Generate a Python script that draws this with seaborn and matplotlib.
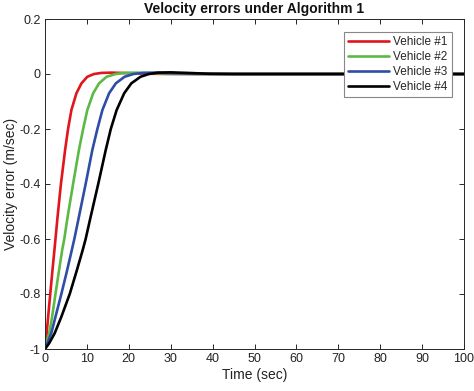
import numpy as np
import pandas as pd
import matplotlib
matplotlib.use("Agg")
import matplotlib.pyplot as plt
import seaborn as sns

# ---- data ----
vehicles = ["Vehicle #1", "Vehicle #2", "Vehicle #3", "Vehicle #4"]

t_v1 = [0, 0.12, 0.4, 0.75, 1.25, 1.75, 2.25, 2.5, 3.0, 3.8, 4.8, 5.5, 6.3, 7.5, 8.7, 10.1, 11.7, 13.5, 16, 20, 25, 30, 100]
e_v1 = [-1, -0.979, -0.943, -0.883, -0.8, -0.719, -0.64, -0.6, -0.519, -0.4, -0.276, -0.2, -0.131, -0.07, -0.034, -0.01, 0, 0.004, 0.005, 0.003, 0.001, 0, 0]

t_v2 = [0, 0.3, 1.0, 1.7, 2.5, 3.3, 4.1, 4.6, 5.4, 6.7, 8.1, 9.1, 10.1, 11.5, 12.9, 14.7, 16.9, 19, 22, 26, 30, 35, 100]
e_v2 = [-1, -0.979, -0.943, -0.883, -0.8, -0.719, -0.64, -0.6, -0.519, -0.4, -0.276, -0.2, -0.131, -0.07, -0.034, -0.01, 0, 0.004, 0.005, 0.003, 0.001, 0, 0]

t_v3 = [0, 0.55, 1.5, 2.5, 3.9, 5.2, 6.4, 7.0, 8.1, 9.7, 11.3, 12.5, 13.7, 15.3, 16.9, 19.0, 21.1, 23.5, 26.5, 30, 35, 40, 100]
e_v3 = [-1, -0.979, -0.943, -0.883, -0.8, -0.719, -0.64, -0.6, -0.519, -0.4, -0.276, -0.2, -0.131, -0.07, -0.034, -0.01, 0, 0.004, 0.005, 0.003, 0.001, 0, 0]

t_v4 = [0, 1.0, 2.3, 3.9, 5.9, 7.5, 9.0, 9.7, 10.9, 12.7, 14.5, 15.7, 17.1, 18.9, 20.6, 22.8, 24.8, 27, 30, 34, 39, 45, 100]
e_v4 = [-1, -0.979, -0.943, -0.883, -0.8, -0.719, -0.64, -0.6, -0.519, -0.4, -0.276, -0.2, -0.131, -0.07, -0.034, -0.01, 0, 0.005, 0.006, 0.004, 0.001, 0, 0]

x_ticks = [0, 10, 20, 30, 40, 50, 60, 70, 80, 90, 100]
y_ticks = [0.2, 0, -0.2, -0.4, -0.6, -0.8, -1]
y_tick_labels = ["0.2", "0", "-0.2", "-0.4", "-0.6", "-0.8", "-1"]

colors = ["#e0151d", "#5cb946", "#2e4ea6", "#000000"]

# ---- build long-form table ----
frames = []
for name, t, e in zip(vehicles, [t_v1, t_v2, t_v3, t_v4], [e_v1, e_v2, e_v3, e_v4]):
    frames.append(pd.DataFrame({"Time": t, "Error": e, "Vehicle": name}))
df = pd.concat(frames, ignore_index=True)

sns.set_theme(style="ticks")
plt.rcParams["font.family"] = ["Liberation Sans", "DejaVu Sans"]
plt.rcParams["axes.unicode_minus"] = False

axis_col = "#262626"
fig = plt.figure(figsize=(4.74, 3.91), dpi=100)
ax = fig.add_axes([45 / 474, 1 - 349 / 391, 419 / 474, 330 / 391])

sns.lineplot(data=df, x="Time", y="Error", hue="Vehicle", palette=colors,
             hue_order=vehicles, estimator=None, sort=False, linewidth=1.9, ax=ax)

ax.set_xlim(0, 100)
ax.set_ylim(-1, 0.2)
ax.set_xticks(x_ticks)
ax.set_xticklabels([str(v) for v in x_ticks])
ax.set_yticks(y_ticks)
ax.set_yticklabels(y_tick_labels)

for s in ax.spines.values():
    s.set_visible(True)
    s.set_color(axis_col)
    s.set_linewidth(0.7)
ax.tick_params(direction="in", length=3.5, width=0.7, colors=axis_col,
               labelsize=9, top=True, right=True, pad=3)
for lbl in ax.get_xticklabels() + ax.get_yticklabels():
    lbl.set_color("#222222")

ax.set_xlabel("Time (sec)", fontsize=10, color="#222222", labelpad=2)
ax.set_ylabel("Velocity error (m/sec)", fontsize=10, color="#222222", labelpad=1)
ax.set_title("Velocity errors under Algorithm 1", fontsize=10, fontweight="bold",
             color="#111111", pad=4)

leg = ax.legend(loc="upper right", bbox_to_anchor=(0.971, 0.961), borderaxespad=0,
                fontsize=8.5, frameon=True, fancybox=False, handlelength=3.4,
                labelspacing=0.25, borderpad=0.35, handletextpad=0.4)
leg.get_frame().set_edgecolor("#888888")
leg.get_frame().set_linewidth(0.8)
leg.get_frame().set_alpha(1)
for line in leg.get_lines():
    line.set_linewidth(1.9)

fig.savefig("out.png", dpi=100)
